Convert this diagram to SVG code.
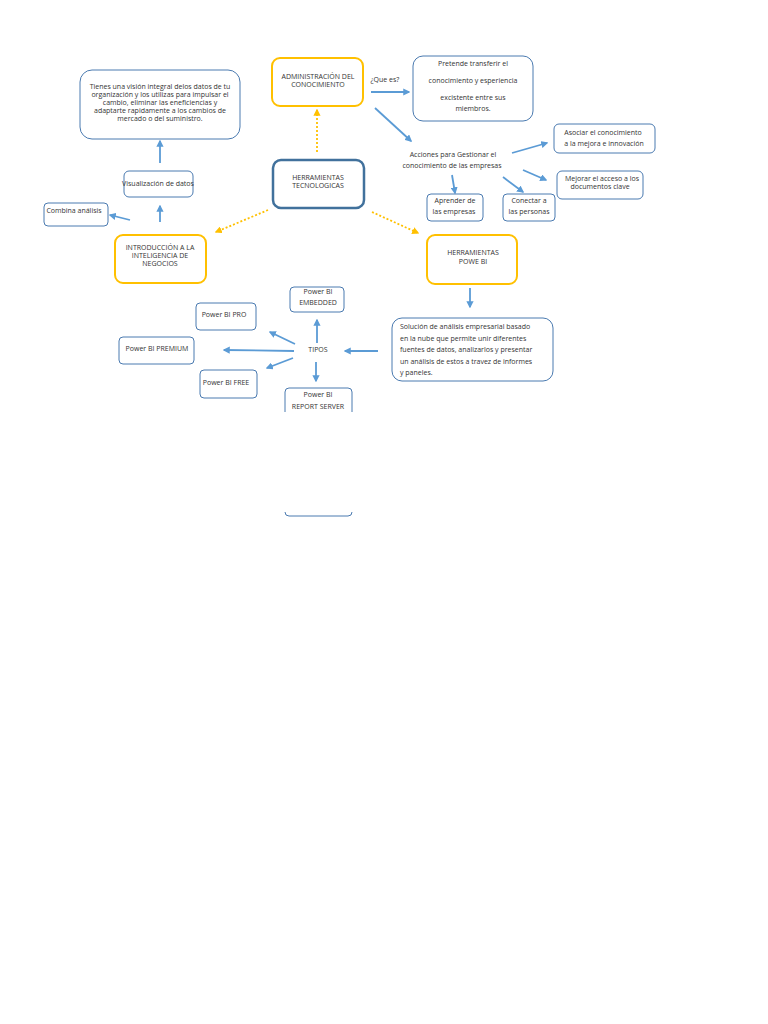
<svg xmlns="http://www.w3.org/2000/svg" width="768" height="1024" viewBox="0 0 768 1024">
<defs>
<marker id="ab" viewBox="0 0 10 10" refX="8" refY="5" markerWidth="4" markerHeight="4" orient="auto"><path d="M0,0L10,5L0,10z" fill="#5b9bd5"/></marker>
<marker id="ay" viewBox="0 0 10 10" refX="8" refY="5" markerWidth="4" markerHeight="4" orient="auto"><path d="M0,0L10,5L0,10z" fill="#ffc000"/></marker>
<style>
text{font-family:"Open Sans","DejaVu Sans",sans-serif;font-size:7px;fill:#333;text-anchor:middle}
.b{fill:#fff;stroke:#4a7ab0;stroke-width:1}
.y{fill:#fff;stroke:#ffc000;stroke-width:2}
.d{fill:#fff;stroke:#41719c;stroke-width:2.5}
.c line{stroke:#5b9bd5;stroke-width:1.8;marker-end:url(#ab)}
.c .dy{stroke:#ffc000;stroke-dasharray:2 2;marker-end:url(#ay)}
</style>
</defs>
<rect width="768" height="1024" fill="#fff"/>
<g class="c" id="connectors">
<line x1="160" y1="163" x2="160" y2="141"/>
<line x1="160" y1="222" x2="160" y2="206"/>
<line x1="130" y1="220" x2="110" y2="215"/>
<line class="dy" x1="317" y1="152" x2="317" y2="110"/>
<line class="dy" x1="268" y1="210" x2="216" y2="232"/>
<line class="dy" x1="372" y1="212" x2="418" y2="233"/>
<line x1="371" y1="92" x2="409" y2="92"/>
<line x1="375" y1="108" x2="411" y2="141"/>
<line x1="512" y1="153" x2="547" y2="143"/>
<line x1="523" y1="170" x2="546" y2="180"/>
<line x1="452" y1="175" x2="455" y2="193"/>
<line x1="503" y1="177" x2="523" y2="192"/>
<line x1="470" y1="288" x2="470" y2="307"/>
<line x1="378" y1="351" x2="345" y2="351"/>
<line x1="295" y1="344" x2="270" y2="332"/>
<line x1="294" y1="351" x2="224" y2="350"/>
<line x1="293" y1="358" x2="267" y2="368"/>
<line x1="317" y1="343" x2="317" y2="320"/>
<line x1="316" y1="362" x2="316" y2="381"/>
</g>
<g id="admin"><rect class="y" x="272" y="58" width="91" height="48" rx="8"/><text x="318" y="79">ADMINISTRACIÓN DEL</text><text x="318" y="87">CONOCIMIENTO</text></g>
<g id="vision"><rect class="b" x="80" y="70" width="160" height="69" rx="12"/><text x="160" y="89">Tienes una visión integral delos datos de tu</text><text x="160" y="97">organización y los utilizas para impulsar el</text><text x="160" y="105">cambio, eliminar las eneficiencias y</text><text x="160" y="113">adaptarte rapidamente a los cambios de</text><text x="160" y="121">mercado o del suministro.</text></g>
<g id="herr"><rect class="d" x="273" y="160" width="91" height="48" rx="8"/><text x="318" y="180">HERRAMIENTAS</text><text x="318" y="188">TECNOLOGICAS</text></g>
<g id="visual"><rect class="b" x="124" y="171" width="69" height="26" rx="5"/><text x="158" y="186">Visualización de datos</text></g>
<g id="combina"><rect class="b" x="44" y="203" width="64" height="23" rx="4"/><text x="74" y="213">Combina análisis</text></g>
<g id="intro"><rect class="y" x="115" y="235" width="91" height="48" rx="8"/><text x="160" y="250">INTRODUCCIÓN A LA</text><text x="160" y="258">INTELIGENCIA DE</text><text x="160" y="266">NEGOCIOS</text></g>
<g id="quees"><text x="385" y="82">¿Que es?</text></g>
<g id="pretende"><rect class="b" x="413" y="56" width="120" height="65" rx="10"/><text x="473" y="66">Pretende transferir el</text><text x="473" y="83">conocimiento y esperiencia</text><text x="473" y="100">excistente entre sus</text><text x="473" y="111">miembros.</text></g>
<g id="acciones"><text x="453" y="157">Acciones para Gestionar el</text><text x="452" y="168">conocimiento de las empresas</text></g>
<g id="asociar"><rect class="b" x="554" y="124" width="101" height="29" rx="5"/><text x="603" y="135">Asociar el conocimiento</text><text x="604" y="146">a la mejora e innovación</text></g>
<g id="mejorar"><rect class="b" x="557" y="171" width="86" height="28" rx="5"/><text x="602" y="181">Mejorar el acceso a los</text><text x="600" y="189">documentos clave</text></g>
<g id="aprender"><rect class="b" x="427" y="194" width="56" height="27" rx="4"/><text x="455" y="203">Aprender de</text><text x="454" y="214">las empresas</text></g>
<g id="conectar"><rect class="b" x="503" y="194" width="52" height="27" rx="4"/><text x="529" y="203">Conectar a</text><text x="529" y="214">las personas</text></g>
<g id="powebi"><rect class="y" x="427" y="235" width="90" height="49" rx="8"/><text x="473" y="255">HERRAMIENTAS</text><text x="473" y="264">POWE BI</text></g>
<g id="solucion"><rect class="b" x="392" y="318" width="161" height="63" rx="10"/>
<g style="text-anchor:start"><text x="400" y="329" style="text-anchor:start">Solución de análisis empresarial basado</text><text x="400" y="341" style="text-anchor:start">en la nube que permite unir diferentes</text><text x="400" y="352" style="text-anchor:start">fuentes de datos, analizarlos y presentar</text><text x="400" y="364" style="text-anchor:start">un análisis de estos a travez de informes</text><text x="400" y="375" style="text-anchor:start">y paneles.</text></g></g>
<g id="tipos"><text x="318" y="352">TIPOS</text></g>
<g id="embedded"><rect class="b" x="290" y="287" width="54" height="25" rx="4"/><text x="318" y="294">Power BI</text><text x="318" y="305">EMBEDDED</text></g>
<g id="pro"><rect class="b" x="196" y="303" width="60" height="27" rx="4"/><text x="224" y="317">Power BI PRO</text></g>
<g id="premium"><rect class="b" x="119" y="337" width="75" height="27" rx="4"/><text x="157" y="351">Power BI PREMIUM</text></g>
<g id="free"><rect class="b" x="200" y="370" width="57" height="28" rx="4"/><text x="226" y="385">Power BI FREE</text></g>
<g id="report"><path class="b" d="M285,412V392a4,4 0 0 1 4,-4H348a4,4 0 0 1 4,4V412" fill="none"/><path d="M285,512a4,4 0 0 0 4,4H348a4,4 0 0 0 4,-4" fill="none" stroke="#4a7ab0"/><text x="318" y="397">Power BI</text><text x="318" y="409">REPORT SERVER</text></g>
</svg>
